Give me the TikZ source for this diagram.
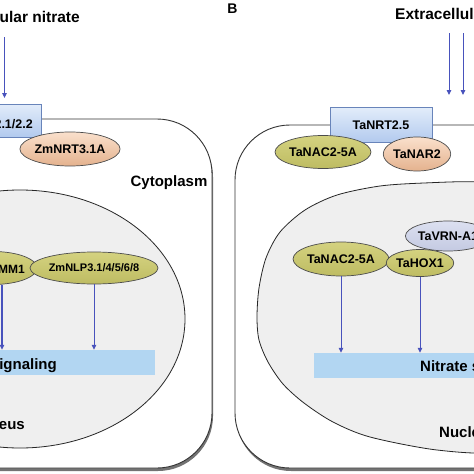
\documentclass[tikz,border=0pt]{standalone}
\usepackage{fontspec}
\setmainfont{Liberation Sans}
\usetikzlibrary{arrows.meta,shapes.geometric}

\definecolor{sigblue}{RGB}{72,82,188}
\definecolor{oliveT}{RGB}{212,210,128}
\definecolor{oliveB}{RGB}{190,188,98}
\definecolor{peachT}{RGB}{250,224,204}
\definecolor{peachB}{RGB}{228,178,142}
\definecolor{boxT}{RGB}{226,236,250}
\definecolor{boxB}{RGB}{178,202,238}
\definecolor{boxline}{RGB}{104,132,186}
\definecolor{barblue}{RGB}{178,214,242}
\definecolor{nucgray}{RGB}{239,239,239}
\definecolor{vrnT}{RGB}{220,224,240}
\definecolor{vrnB}{RGB}{196,202,226}

\begin{document}
\begin{tikzpicture}[x=1pt,y=-1pt,
  pill/.style={ellipse, draw=black!70, line width=0.7pt, inner sep=0pt,
    font=\fontsize{12.5}{14}\selectfont\bfseries},
  olivepill/.style={pill, top color=oliveT, bottom color=oliveB},
  peachpill/.style={pill, top color=peachT, bottom color=peachB},
  vrnpill/.style={pill, top color=vrnT, bottom color=vrnB},
  nrtbox/.style={rectangle, draw=boxline, line width=0.8pt, top color=boxT,
    bottom color=boxB, minimum height=33pt, inner sep=0pt,
    font=\fontsize{12.5}{14}\selectfont\bfseries},
  sigbar/.style={rectangle, fill=barblue, minimum height=25pt, inner sep=0pt},
  sig/.style={draw=sigblue, line width=1pt, -{Triangle[length=5pt,width=4.5pt]}},
  lbl/.style={inner sep=0pt, font=\fontsize{15}{17}\selectfont\bfseries},
  small/.style={inner sep=0pt, font=\fontsize{12.5}{14}\selectfont\bfseries},
  cell/.style={draw=black!80, line width=0.9pt, fill=white, rounded corners=55pt},
  nucleus/.style={draw=black!85, line width=0.8pt, fill=nucgray}]
\useasboundingbox (0,0) rectangle (474,474);
\clip (0,0) rectangle (474,474);

% Zellen (mit Schatten)
\fill[black!55, rounded corners=55pt] (-229,122) rectangle (213,471);
\draw[cell] (-230,119) rectangle (212,468);
\fill[black!55, rounded corners=55pt] (236,128) rectangle (701,471);
\draw[cell] (235,125) rectangle (700,468);

% Zellkerne
\draw[nucleus] (20,319) ellipse [x radius=165pt, y radius=129pt];
\draw[nucleus] plot[smooth cycle] coordinates {(257,317) (259,288) (266,258)
  (280,232) (305,210) (337,195) (380,186) (424,183) (480,182) (540,190)
  (595,222) (625,300) (610,380) (560,430) (500,452) (437,450) (370,437)
  (333,422) (304,403) (283,384) (268,362) (259,340)};

% Signalbalken
\node[sigbar, minimum width=313pt] (barA) at (-1.5,362.5) {};
\node[lbl, anchor=base east] (sigA) at (57,369) {Nitrate signaling};
\node[sigbar, minimum width=351pt] (barB) at (489.5,365.5) {};
\node[lbl, anchor=base west] (sigB) at (420,371) {Nitrate signaling};

% Beschriftungen
\node[lbl, font=\fontsize{15.5}{17}\selectfont\bfseries, anchor=base east] (extA) at (80,22) {Extracellular nitrate};
\node[lbl, font=\fontsize{15.5}{17}\selectfont\bfseries, anchor=base west] (extB) at (395,19) {Extracellular nitrate};
\node[lbl, font=\fontsize{14}{16}\selectfont\bfseries, anchor=base] (panB) at (232.5,13.5) {B};
\node[lbl, anchor=base] (cytA) at (169,186) {Cytoplasm};
\node[lbl, anchor=base east] (nucA) at (25,429) {Nucleus};
\node[lbl, anchor=base west] (nucB) at (439,437) {Nucleus};

% Membran: Transporter
\node[nrtbox, minimum width=105pt] (nrtA) at (-11.5,120.5) {};
\node[small, anchor=base east] (nrtAtxt) at (33,128) {ZmNRT2.1/2.2};
\node[nrtbox, minimum width=102pt, minimum height=35pt] (nrtB) at (381,125) {TaNRT2.5};
\node[peachpill, minimum width=87pt, minimum height=34pt] (nrt3) at (70,149) {ZmNRT3.1A};
\node[olivepill, minimum width=88pt, minimum height=33pt] (nacM) at (323,152) {TaNAC2-5A};
\node[peachpill, minimum width=64pt, minimum height=34pt] (nar2) at (417,154) {TaNAR2};

% Kern: Faktoren
\node[olivepill, minimum width=88pt, minimum height=33pt] (mm) at (-7,268) {};
\node[small, font=\fontsize{12}{14}\selectfont\bfseries, anchor=base east] (mmtxt) at (25,273) {MM1};
\node[olivepill, minimum width=105pt, minimum height=32pt,
  font=\fontsize{11}{13}\selectfont\bfseries] (nlp) at (94,268) {ZmNLP3.1/4/5/6/8};
\node[olivepill, minimum width=88pt, minimum height=34pt] (nacN) at (341,259) {TaNAC2-5A};
\node[vrnpill, minimum width=84pt, minimum height=30pt] (vrn) at (448,236) {TaVRN-A1};
\node[olivepill, minimum width=58pt, minimum height=27pt] (hox) at (420,263) {TaHOX1};

% Pfeile
\coordinate (inA) at (4.5,37);
\coordinate (outA) at (4.5,98);
\draw[sig] (inA) -- (outA);
\foreach \x [count=\i] in {449,463}{
  \coordinate (exS\i) at (\x,33);
  \coordinate (exE\i) at (\x,95);
  \draw[sig] (exS\i) -- (exE\i);
}
\draw[sig, line width=2.4pt] ([xshift=9pt]mm.south) -- ([xshift=9pt]mm.south |- barA.north);
\draw[sig] (nlp.south) -- (nlp.south |- barA.north);
\draw[sig] (nacN.south) -- (nacN.south |- barB.north);
\draw[sig] (hox.south) -- (hox.south |- barB.north);

\end{tikzpicture}
\end{document}
